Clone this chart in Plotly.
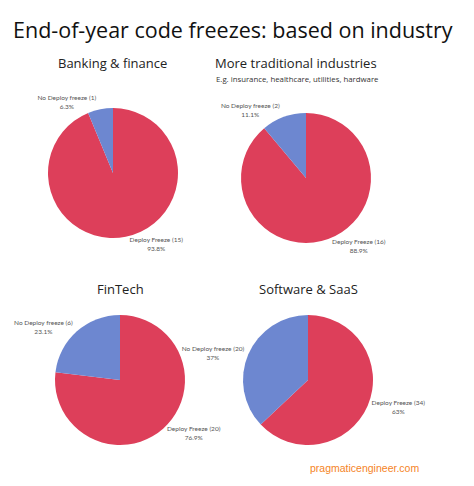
import plotly.graph_objects as go

W, H = 474, 486

titles = ["Banking & finance", "More traditional industries", "FinTech", "Software & SaaS"]
subtitle = "E.g. insurance, healthcare, utilities, hardware"
labels = ["Deploy Freeze", "No Deploy freeze"]
counts = [[15, 1], [16, 2], [20, 6], [34, 20]]
pcts = [["93.8%", "6.3%"], ["88.9%", "11.1%"], ["76.9%", "23.1%"], ["63%", "37%"]]

RED = "#DD3F5A"
BLUE = "#6D87D0"

# pie centers (px) and radius
centers = [(113, 173), (306, 178), (120, 380), (308, 380)]
R = 65

fig = go.Figure()
for i in range(4):
    cx, cy = centers[i]
    x0, x1 = (cx - R) / W, (cx + R) / W
    y0, y1 = (H - cy - R) / H, (H - cy + R) / H
    txt = [f"{labels[j]} ({counts[i][j]})<br>{pcts[i][j]}" for j in range(2)]
    fig.add_trace(go.Pie(
        labels=labels, values=counts[i], text=txt, textinfo="text",
        textposition="outside", sort=False, direction="clockwise", rotation=0,
        marker=dict(colors=[RED, BLUE], line=dict(width=0)),
        textfont=dict(size=6.5, color="#555", family="Lato"),
        domain=dict(x=[x0, x1], y=[y0, y1]), showlegend=False, hoverinfo="skip",
    ))

ann = [
    dict(text="End-of-year code freezes: based on industry", x=233, y=29, size=21.5, fam="Open Sans", col="#111"),
    dict(text=titles[0], x=112, y=63, size=13, fam="Open Sans", col="#222"),
    dict(text=titles[1], x=296, y=63, size=13, fam="Open Sans", col="#222"),
    dict(text=subtitle, x=297, y=79, size=7.8, fam="Open Sans", col="#333"),
    dict(text=titles[2], x=120, y=289, size=13, fam="Open Sans", col="#222"),
    dict(text=titles[3], x=308, y=289, size=13, fam="Open Sans", col="#222"),
    dict(text="pragmaticengineer.com", x=364, y=468, size=10.5, fam="Liberation Sans", col="#F5841F"),
]
for a in ann:
    fig.add_annotation(text=a["text"], x=a["x"] / W, y=1 - a["y"] / H, xref="paper", yref="paper",
                       showarrow=False, xanchor="center", yanchor="middle",
                       font=dict(size=a["size"], family=a["fam"], color=a["col"]))

fig.update_layout(width=W, height=H, margin=dict(l=0, r=0, t=0, b=0),
                  paper_bgcolor="white", plot_bgcolor="white")
fig.write_html("out.html")
